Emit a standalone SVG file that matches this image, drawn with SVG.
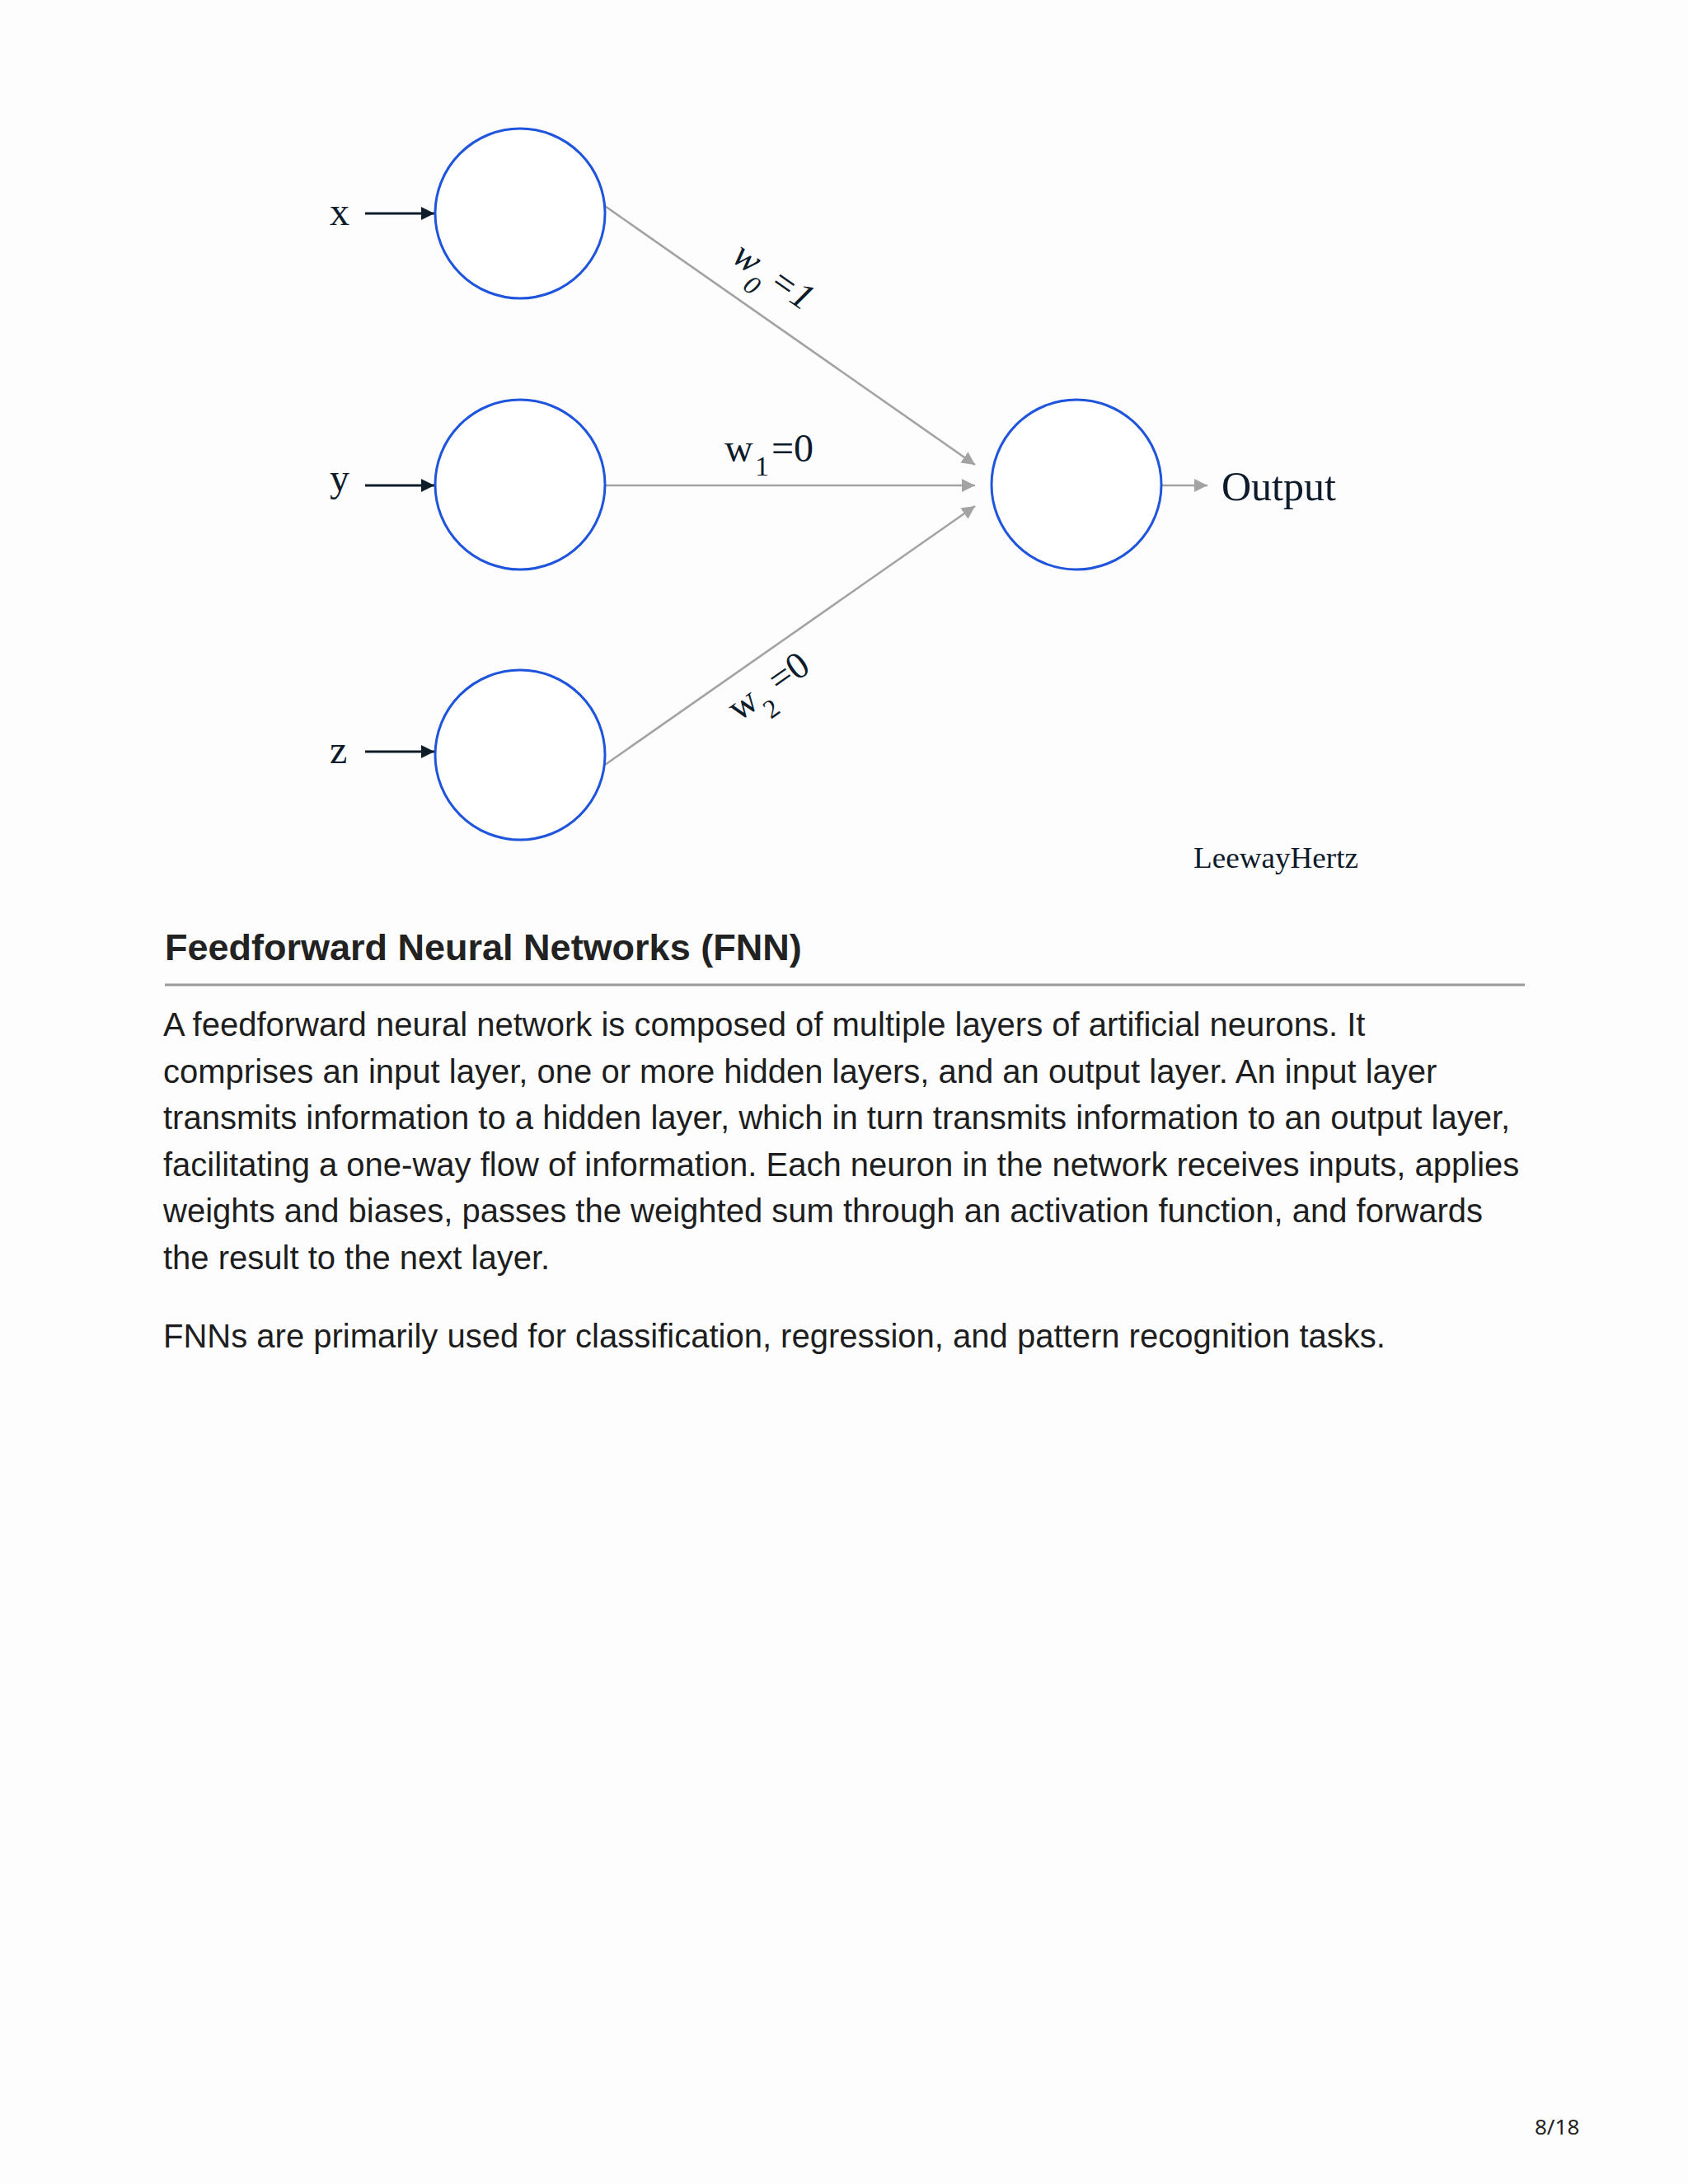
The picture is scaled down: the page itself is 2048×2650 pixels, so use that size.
<svg xmlns="http://www.w3.org/2000/svg" width="2048" height="2650" viewBox="0 0 2048 2650">
<defs>
<style>
.neuron{fill:#ffffff;stroke:#1f55dc;stroke-width:3}
.inp{stroke:#0f1d2b;stroke-width:3;fill:none}
.conn{stroke:#a3a3a5;stroke-width:2.6;fill:none}
.lbl{font-family:"Liberation Serif","Times New Roman",serif;fill:#0d1b2a}
.body{font-family:"Liberation Sans",Arial,sans-serif;font-size:40px;fill:#1e1e1e}
</style>
<marker id="ahDark" markerUnits="userSpaceOnUse" markerWidth="18" markerHeight="18" refX="16" refY="8" orient="auto"><path d="M0,0 L16,8 L0,16 z" fill="#0f1d2b"/></marker>
<marker id="ahGray" markerUnits="userSpaceOnUse" markerWidth="18" markerHeight="18" refX="16" refY="8" orient="auto"><path d="M0,0 L16,8 L0,16 z" fill="#a3a3a5"/></marker>
</defs>
<rect x="0" y="0" width="2048" height="2650" fill="#fdfdfe"/>

<g id="connectors">
<line class="inp" x1="443" y1="259" x2="527" y2="259" marker-end="url(#ahDark)"/>
<line class="inp" x1="443" y1="589" x2="527" y2="589" marker-end="url(#ahDark)"/>
<line class="inp" x1="443" y1="912" x2="527" y2="912" marker-end="url(#ahDark)"/>
<line class="conn" x1="734" y1="250" x2="1183" y2="564" marker-end="url(#ahGray)"/>
<line class="conn" x1="734" y1="589" x2="1183" y2="589" marker-end="url(#ahGray)"/>
<line class="conn" x1="734" y1="928" x2="1183" y2="614" marker-end="url(#ahGray)"/>
<line class="conn" x1="1409" y1="589" x2="1465" y2="589" marker-end="url(#ahGray)"/>
</g>

<g id="node-x">
<circle class="neuron" cx="631" cy="259" r="103"/>
<text class="lbl" x="400" y="273" font-size="48">x</text>
</g>
<g id="node-y">
<circle class="neuron" cx="631" cy="588" r="103"/>
<text class="lbl" x="400" y="596" font-size="48">y</text>
</g>
<g id="node-z">
<circle class="neuron" cx="631" cy="916" r="103"/>
<text class="lbl" x="400" y="926" font-size="48">z</text>
</g>
<g id="node-out">
<circle class="neuron" cx="1306" cy="588" r="103"/>
<text class="lbl" x="1482" y="607" font-size="50">Output</text>
</g>

<g id="edge-labels">
<text class="lbl" font-size="46" font-style="italic" transform="translate(886,316) rotate(35)">w<tspan font-size="32" dy="20">0</tspan><tspan x="54" dy="-20">=1</tspan></text>
<text class="lbl" font-size="48" x="879" y="560">w<tspan font-size="34" x="916" y="577">1</tspan><tspan x="936" y="560">=0</tspan></text>
<text class="lbl" font-size="46" transform="translate(896,876) rotate(-35)">w<tspan font-size="32" x="34" dy="20">2</tspan><tspan x="60" dy="-20">=0</tspan></text>
</g>

<text class="lbl" x="1448" y="1053" font-size="36" textLength="200" lengthAdjust="spacingAndGlyphs">LeewayHertz</text>

<text x="200" y="1165" font-family="'Liberation Sans',Arial,sans-serif" font-size="45" font-weight="bold" fill="#222222">Feedforward Neural Networks (FNN)</text>
<line x1="200" y1="1195" x2="1850" y2="1195" stroke="#9a9a9a" stroke-width="3"/>

<text class="body" x="198" y="1257">A feedforward neural network is composed of multiple layers of artificial neurons. It</text>
<text class="body" x="198" y="1313.5">comprises an input layer, one or more hidden layers, and an output layer. An input layer</text>
<text class="body" x="198" y="1370">transmits information to a hidden layer, which in turn transmits information to an output layer,</text>
<text class="body" x="198" y="1426.5">facilitating a one-way flow of information. Each neuron in the network receives inputs, applies</text>
<text class="body" x="198" y="1483">weights and biases, passes the weighted sum through an activation function, and forwards</text>
<text class="body" x="198" y="1539.5">the result to the next layer.</text>
<text class="body" x="198" y="1635">FNNs are primarily used for classification, regression, and pattern recognition tasks.</text>

<text x="1862" y="2590" font-family="'Noto Sans','Open Sans',sans-serif" font-size="26" fill="#222222">8/18</text>
</svg>
